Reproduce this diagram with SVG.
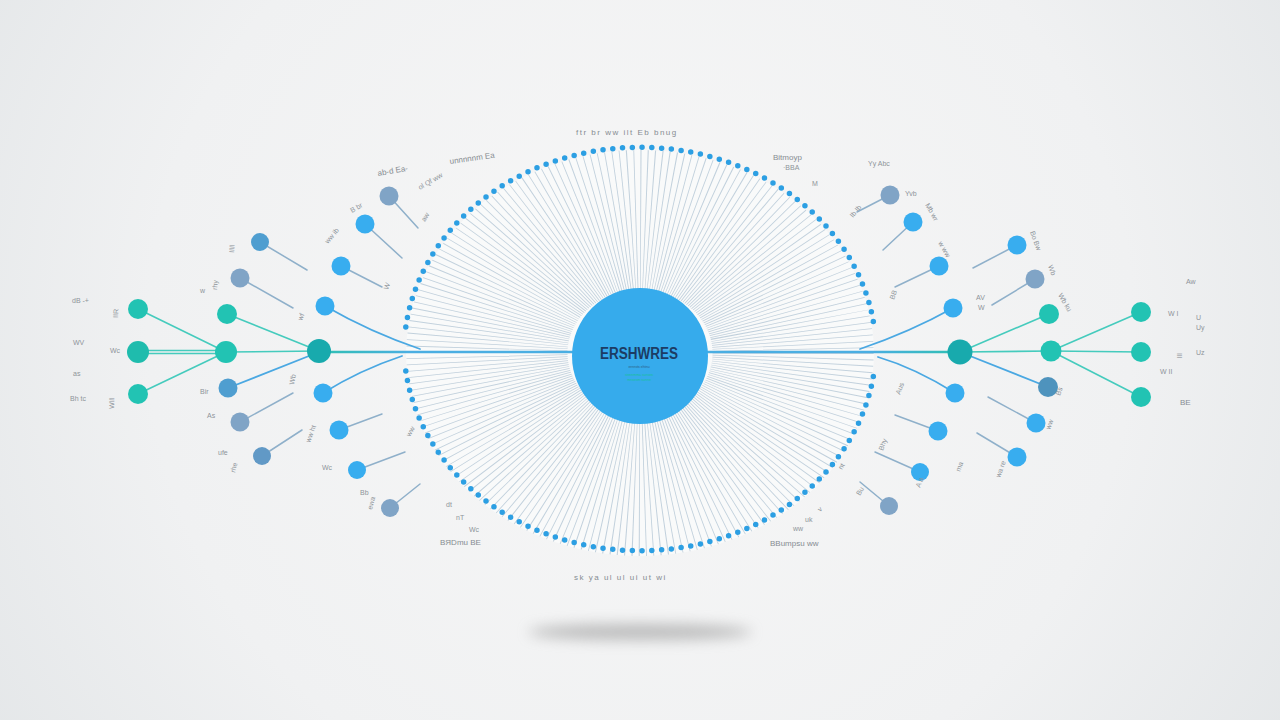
<svg xmlns="http://www.w3.org/2000/svg" width="1280" height="720" viewBox="0 0 1280 720">
<defs>
<radialGradient id="bg" cx="640" cy="330" r="820" gradientUnits="userSpaceOnUse">
<stop offset="0" stop-color="#f7f7f7"/><stop offset="0.6" stop-color="#f0f1f2"/><stop offset="1" stop-color="#e2e5e7"/>
</radialGradient>
<linearGradient id="mainLine" x1="320" y1="0" x2="960" y2="0" gradientUnits="userSpaceOnUse">
<stop offset="0" stop-color="#2fc0b2"/><stop offset="0.14" stop-color="#4aaee2"/><stop offset="0.86" stop-color="#4aaee2"/><stop offset="1" stop-color="#2fc0b2"/>
</linearGradient>
<filter id="blur" x="-50%" y="-200%" width="200%" height="500%"><feGaussianBlur stdDeviation="7"/></filter>
<style>
.nb{fill:#38adef}
.ng{fill:#80a4c6}
.nt{fill:#22c3b3}
.nm{fill:#4f9ed0}
.nd{fill:#18aaad}
.cb{stroke:#4aa8e2;stroke-width:1.8;fill:none;stroke-linecap:round}
.cg{stroke:#8fb0ca;stroke-width:1.5;fill:none;stroke-linecap:round}
.ct{stroke:#45cbbd;stroke-width:1.6;fill:none;stroke-linecap:round}
.lbl{font-family:"Liberation Sans",Arial,sans-serif;font-size:8px;fill:#868c92}
.lbs{font-family:"Liberation Sans",Arial,sans-serif;font-size:7px;fill:#8e949a}
</style>
</defs>
<rect width="1280" height="720" fill="url(#bg)"/>
<ellipse cx="640" cy="632" rx="112" ry="8" fill="#8d8d8d" opacity="0.55" filter="url(#blur)"/>

<ellipse cx="640" cy="353" rx="234" ry="203" fill="#fbfcfc" opacity="0.7"/>
<g id="rays" transform="translate(640 353) scale(1.151 1)">
<circle r="133" fill="none" stroke="#b3c6d4" stroke-width="140" stroke-dasharray="0.75 3.428" opacity="0.8"/>
</g>

<g id="ring" fill="none" stroke="#2c9fe3" stroke-width="5.5" stroke-linecap="round" stroke-dasharray="0 9.8">
<path d="M405.8,327 A236,205 0 0 1 874.2,327"/>
<path d="M405.8,371 A236,205 0 0 0 874.2,371"/>
</g>

<g id="connectors">
<path d="M320,352 H960" stroke="url(#mainLine)" stroke-width="2.6" fill="none"/>
<path class="ct" d="M138,309 L226,352"/>
<path class="ct" d="M138,350.5 L226,350.5"/>
<path class="ct" d="M138,353.5 L226,353.5"/>
<path class="ct" d="M138,394 L226,352"/>
<path class="ct" d="M227,314 L319,351"/>
<path class="ct" d="M226,352 L319,351"/>
<path class="cb" d="M228,388 L319,352"/>
<path class="cg" d="M260,242 L307,270"/>
<path class="cg" d="M240,278 L293,308"/>
<path class="cg" d="M240,422 L293,393"/>
<path class="cg" d="M262,456 L302,430"/>
<path class="cb" d="M325,306 Q370,332 420,349"/>
<path class="cg" d="M341,266 L382,287"/>
<path class="cg" d="M365,224 L402,258"/>
<path class="cg" d="M389,196 L418,228"/>
<path class="cb" d="M323,393 Q360,370 402,356"/>
<path class="cg" d="M339,430 L382,414"/>
<path class="cg" d="M357,470 L405,452"/>
<path class="cg" d="M390,508 L420,484"/>
<path class="ct" d="M960,352 L1049,314"/>
<path class="ct" d="M960,352 L1051,351"/>
<path class="cb" d="M960,352 L1048,387"/>
<path class="ct" d="M1051,351 L1141,312"/>
<path class="ct" d="M1051,351 L1141,352"/>
<path class="ct" d="M1051,351 L1141,397"/>
<path class="cb" d="M953,308 Q910,332 860,349"/>
<path class="cg" d="M939,266 L895,287"/>
<path class="cg" d="M913,222 L883,250"/>
<path class="cg" d="M890,195 L857,212"/>
<path class="cg" d="M1017,245 L973,268"/>
<path class="cg" d="M1035,279 L992,305"/>
<path class="cb" d="M955,393 Q915,368 878,357"/>
<path class="cg" d="M938,431 L895,415"/>
<path class="cg" d="M920,472 L875,452"/>
<path class="cg" d="M889,506 L860,482"/>
<path class="cg" d="M1036,423 L988,397"/>
<path class="cg" d="M1017,457 L977,433"/>
</g>

<g id="hub">
<circle cx="640" cy="356" r="68" fill="#36abec"/>
<text x="639" y="359" text-anchor="middle" font-family="'Liberation Sans',Arial,sans-serif" font-size="16" font-weight="bold" fill="#1c3c64" textLength="78" lengthAdjust="spacingAndGlyphs">ERSHWRES</text>
<text x="639" y="368" text-anchor="middle" font-family="'Liberation Sans',Arial,sans-serif" font-size="3.5" fill="#2d5f86">ernnsts ehtnu</text>
<text x="639" y="376" text-anchor="middle" font-family="'Liberation Sans',Arial,sans-serif" font-size="3.5" fill="#19c09a">sinnnmma sunses</text>
<text x="639" y="381" text-anchor="middle" font-family="'Liberation Sans',Arial,sans-serif" font-size="3.5" fill="#19c09a">mnsesm sunne</text>
</g>

<g id="node-l1a"><circle class="nt" cx="138" cy="309" r="10"/></g>
<g id="node-l1b"><circle cx="138" cy="352" r="11" fill="#1fbcad"/></g>
<g id="node-l1c"><circle class="nt" cx="138" cy="394" r="10"/></g>
<g id="node-l2a"><circle class="nt" cx="227" cy="314" r="10"/></g>
<g id="node-l2b"><circle class="nt" cx="226" cy="352" r="11"/></g>
<g id="node-l2c"><circle class="nm" cx="228" cy="388" r="9.5"/></g>
<g id="node-l2d"><circle class="ng" cx="240" cy="278" r="9.5"/></g>
<g id="node-l2e"><circle class="ng" cx="240" cy="422" r="9.5"/></g>
<g id="node-l2f"><circle class="nm" cx="260" cy="242" r="9"/></g>
<g id="node-l2g"><circle cx="262" cy="456" r="9" fill="#6199c6"/></g>
<g id="node-l3a"><circle class="nd" cx="319" cy="351" r="12"/></g>
<g id="node-l3b"><circle class="nb" cx="325" cy="306" r="9.5"/></g>
<g id="node-l3c"><circle class="nb" cx="323" cy="393" r="9.5"/></g>
<g id="node-l3d"><circle class="nb" cx="341" cy="266" r="9.5"/></g>
<g id="node-l3e"><circle class="nb" cx="339" cy="430" r="9.5"/></g>
<g id="node-l3f"><circle class="nb" cx="365" cy="224" r="9.5"/></g>
<g id="node-l3g"><circle class="nb" cx="357" cy="470" r="9"/></g>
<g id="node-l3h"><circle class="ng" cx="389" cy="196" r="9.5"/></g>
<g id="node-l3i"><circle class="ng" cx="390" cy="508" r="9"/></g>

<g id="node-r3a"><circle class="nd" cx="960" cy="352" r="12.5"/></g>
<g id="node-r3b"><circle class="nb" cx="953" cy="308" r="9.5"/></g>
<g id="node-r3c"><circle class="nb" cx="955" cy="393" r="9.5"/></g>
<g id="node-r3d"><circle class="nb" cx="939" cy="266" r="9.5"/></g>
<g id="node-r3e"><circle class="nb" cx="938" cy="431" r="9.5"/></g>
<g id="node-r3f"><circle class="nb" cx="913" cy="222" r="9.5"/></g>
<g id="node-r3g"><circle class="nb" cx="920" cy="472" r="9"/></g>
<g id="node-r3h"><circle class="ng" cx="890" cy="195" r="9.5"/></g>
<g id="node-r3i"><circle class="ng" cx="889" cy="506" r="9"/></g>
<g id="node-r2a"><circle class="nt" cx="1049" cy="314" r="10"/></g>
<g id="node-r2b"><circle class="nt" cx="1051" cy="351" r="10.5"/></g>
<g id="node-r2c"><circle cx="1048" cy="387" r="10" fill="#4e93bd"/></g>
<g id="node-r2d"><circle class="ng" cx="1035" cy="279" r="9.5"/></g>
<g id="node-r2e"><circle class="nb" cx="1036" cy="423" r="9.5"/></g>
<g id="node-r2f"><circle class="nb" cx="1017" cy="245" r="9.5"/></g>
<g id="node-r2g"><circle class="nb" cx="1017" cy="457" r="9.5"/></g>
<g id="node-r1a"><circle class="nt" cx="1141" cy="312" r="10"/></g>
<g id="node-r1b"><circle class="nt" cx="1141" cy="352" r="10"/></g>
<g id="node-r1c"><circle class="nt" cx="1141" cy="397" r="10"/></g>

<g id="labels">
<text class="lbl" x="576" y="135" letter-spacing="1.5">ftr  br  ww  ilt  Eb  bnug</text>
<text class="lbl" x="574" y="580" letter-spacing="1.5">sk ya ul ul ui ut wi</text>
<text class="lbl" x="773" y="160">Bitmoyp</text>
<text class="lbs" x="783" y="170">·BBA</text>
<text class="lbs" x="812" y="186">M</text>
<text class="lbl" x="378" y="176" transform="rotate(-10 378 176)">ab-d Ea-</text>
<text class="lbl" x="450" y="164" transform="rotate(-8 450 164)">unnnnnm Ea</text>
<text class="lbs" x="420" y="190" transform="rotate(-30 420 190)">ol Qf ww</text>
<text class="lbs" x="425" y="222" transform="rotate(-60 425 222)">aw</text>
<text class="lbs" x="352" y="213" transform="rotate(-30 352 213)">B br</text>
<text class="lbs" x="328" y="244" transform="rotate(-50 328 244)">ww ib</text>
<text class="lbs" x="388" y="290" transform="rotate(-70 388 290)">W</text>
<text class="lbs" x="302" y="321" transform="rotate(-70 302 321)">wf</text>
<text class="lbs" x="234" y="253" transform="rotate(-85 234 253)">Illll</text>
<text class="lbs" x="217" y="290" transform="rotate(-85 217 290)">rhy</text>
<text class="lbs" x="200" y="293">w</text>
<text class="lbs" x="118" y="318" transform="rotate(-88 118 318)">IIR</text>
<text class="lbs" x="114" y="409" transform="rotate(-88 114 409)">Wlll</text>
<text class="lbs" x="72" y="303">dB  -+</text>
<text class="lbs" x="73" y="345">WV</text>
<text class="lbs" x="73" y="376">as</text>
<text class="lbs" x="70" y="401">Bh  tc</text>
<text class="lbs" x="110" y="353">Wc</text>
<text class="lbs" x="200" y="394">Bir</text>
<text class="lbs" x="207" y="418">As</text>
<text class="lbs" x="218" y="455">ufe</text>
<text class="lbs" x="235" y="473" transform="rotate(-75 235 473)">rhe</text>
<text class="lbs" x="294" y="385" transform="rotate(-80 294 385)">Wb</text>
<text class="lbs" x="310" y="443" transform="rotate(-70 310 443)">ww ht</text>
<text class="lbs" x="322" y="470">Wc</text>
<text class="lbs" x="360" y="495">Bb</text>
<text class="lbs" x="372" y="510" transform="rotate(-75 372 510)">ewa</text>
<text class="lbs" x="446" y="507">dt</text>
<text class="lbs" x="456" y="520">nT</text>
<text class="lbs" x="469" y="532">Wc</text>
<text class="lbl" x="440" y="545">BЯDmu BE</text>
<text class="lbs" x="410" y="437" transform="rotate(-60 410 437)">ww</text>
<text class="lbl" x="770" y="546">BBumpsu ww</text>
<text class="lbs" x="793" y="531">ww</text>
<text class="lbs" x="805" y="522">uk</text>
<text class="lbs" x="820" y="512" transform="rotate(-40 820 512)">v</text>
<text class="lbs" x="860" y="496" transform="rotate(-60 860 496)">Bu</text>
<text class="lbs" x="842" y="470" transform="rotate(-60 842 470)">nt</text>
<text class="lbs" x="883" y="451" transform="rotate(-70 883 451)">Bhy</text>
<text class="lbs" x="900" y="395" transform="rotate(-70 900 395)">Aus</text>
<text class="lbs" x="920" y="488" transform="rotate(-70 920 488)">A a</text>
<text class="lbs" x="960" y="472" transform="rotate(-70 960 472)">ma</text>
<text class="lbs" x="1000" y="478" transform="rotate(-70 1000 478)">wa re</text>
<text class="lbs" x="1050" y="430" transform="rotate(-70 1050 430)">ww</text>
<text class="lbs" x="1060" y="396" transform="rotate(-70 1060 396)">Bs</text>
<text class="lbs" x="868" y="166">Yy Abc</text>
<text class="lbs" x="905" y="196">Yvb</text>
<text class="lbs" x="853" y="218" transform="rotate(-50 853 218)">Ib Ib</text>
<text class="lbs" x="925" y="205" transform="rotate(60 925 205)">Mb wr</text>
<text class="lbs" x="938" y="243" transform="rotate(60 938 243)">w ww</text>
<text class="lbs" x="894" y="300" transform="rotate(-70 894 300)">BB</text>
<text class="lbs" x="976" y="300">AV</text>
<text class="lbs" x="978" y="310">W</text>
<text class="lbs" x="1030" y="232" transform="rotate(70 1030 232)">Bo Bw</text>
<text class="lbs" x="1048" y="266" transform="rotate(70 1048 266)">Wb</text>
<text class="lbs" x="1058" y="295" transform="rotate(60 1058 295)">Wb ku</text>
<text class="lbs" x="1186" y="284">Aw</text>
<text class="lbs" x="1168" y="316">W  I</text>
<text class="lbs" x="1196" y="320">U</text>
<text class="lbs" x="1196" y="330">Uy</text>
<text class="lbs" x="1177" y="353" transform="rotate(90 1177 353)">Ill</text>
<text class="lbs" x="1196" y="355">Uz</text>
<text class="lbs" x="1160" y="374">W  II</text>
<text class="lbl" x="1180" y="405">BE</text>
</g>
</svg>
